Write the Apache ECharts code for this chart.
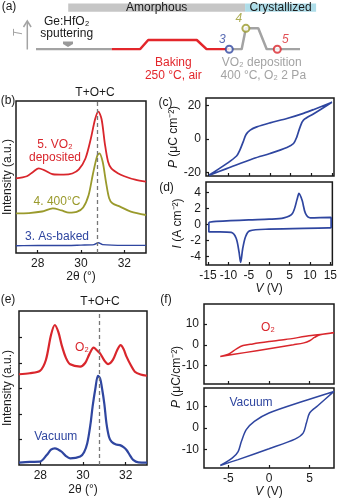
<!DOCTYPE html>
<html>
<head>
<meta charset="utf-8">
<script src="https://cdn.jsdelivr.net/npm/echarts@6/dist/echarts.min.js"></script>
<style>
  html, body { margin: 0; padding: 0; background: #fff; }
  #chart { width: 340px; height: 500px; }
</style>
</head>
<body>
<div id="chart"></div>
<script>
// (a) process schematic: time (a.u.) vs temperature level (a.u.)
var profileStart = [[0, 0], [28.7, 0]];
var profileBake = [[28.7, 0], [39.4, 0], [42.5, 4], [60.9, 4], [64.7, 0], [73.2, 0]];
var profileDepo = [[73.2, 0], [77.9, 0], [79.5, 9], [84.2, 9], [87.4, 0], [100, 0]];
var stageNames = ['3', '4', '5'];
var stageAt = [[73.2, 0], [79.5, 9], [91.4, 0]];
var phaseNames = ['Amorphous', 'Crystallized'];
var phaseSpan = [[12.2, 79.2], [79.2, 106.1]];

// (b) XRD, intensity a.u.
var xrdDeposited = [[27, 49.1], [27.5, 50.5], [27.8, 53.5], [28.05, 55.7], [28.3, 54.5], [28.7, 51.8], [29.2, 51.5], [29.6, 52.3], [29.9, 55], [30.2, 62], [30.45, 75], [30.65, 88], [30.8, 93], [30.95, 88], [31.1, 72], [31.25, 60], [31.4, 55.7], [31.7, 52.5], [32, 50.5], [32.5, 48.2], [33, 46.9]];
var xrd400 = [[27, 26.1], [27.6, 26.3], [28.2, 27.3], [28.7, 29.4], [29.1, 28], [29.45, 26.5], [29.8, 27], [30.1, 30], [30.35, 38], [30.55, 52], [30.75, 64], [30.85, 65.6], [31, 60], [31.15, 47], [31.3, 36], [31.45, 32.7], [31.8, 30.5], [32.3, 27.2], [33, 25]];
var xrdBaked = [[27, 4.8], [28, 5], [29, 4.9], [30, 5.2], [30.6, 5.5], [30.8, 6.7], [31, 5.5], [32, 5], [33, 5]];

// (c) P-V loop, (d) I-V loop
var pvLoop = [[-14.8, -21.8], [-10.5, -17.8], [-4, -11.7], [0, -8.7], [4.1, -5.1], [5.7, -2.7], [6.5, 1.3], [7.3, 7.3], [8.1, 11.3], [10.5, 15], [15, 22], [10.5, 17.6], [8.1, 15.4], [4.1, 12.3], [0, 9.7], [-3.2, 7.3], [-4.8, 5.3], [-5.8, 2.7], [-6.5, -1.7], [-7.3, -6.7], [-8.1, -10.2], [-10.5, -14.8], [-14.8, -21.8]];
var ivLoop = [[-14.8, 0.3], [-13, 0.4], [-5, 0.6], [0, 0.68], [3.6, 0.85], [5.7, 1.4], [6.9, 3.25], [7.3, 3.9], [8.1, 3.0], [8.9, 1.4], [10.1, 0.85], [15, 0.9], [15.2, 0.85], [15.2, -0.35], [14.5, -0.4], [0, -0.56], [-4.8, -0.77], [-5.8, -1.5], [-6.5, -3.0], [-7.0, -4.7], [-7.4, -3.4], [-8.1, -1.7], [-9.3, -0.97], [-12.1, -0.9], [-14.8, -0.9], [-14.8, 0.3]];

// (e) XRD in O2 and vacuum
var xrdO2 = [[27, 3.56], [27.5, 3.6], [27.98, 3.69], [28.26, 4.12], [28.5, 5.1], [28.68, 5.49], [28.85, 5.2], [29.0, 4.7], [29.2, 4.2], [29.4, 3.95], [29.87, 3.86], [30.1, 4.0], [30.3, 4.35], [30.5, 4.6], [30.65, 4.5], [30.8, 4.38], [31.0, 4.1], [31.18, 3.96], [31.4, 4.12], [31.6, 4.5], [31.76, 4.7], [31.9, 4.55], [32.04, 4.25], [32.25, 3.9], [32.43, 3.66], [32.7, 3.55], [33, 3.5]];
var xrdVac = [[27, 0.09], [27.5, 0.12], [27.98, 0.13], [28.3, 0.39], [28.5, 0.6], [28.68, 0.65], [28.85, 0.6], [29.0, 0.52], [29.2, 0.35], [29.4, 0.26], [29.87, 0.33], [30.05, 0.5], [30.2, 0.85], [30.35, 1.6], [30.45, 2.29], [30.58, 3.0], [30.7, 3.5], [30.8, 3.4], [30.88, 3.07], [31.0, 2.4], [31.1, 1.63], [31.22, 1.1], [31.34, 0.91], [31.55, 0.8], [31.73, 0.78], [31.9, 0.7], [32.04, 0.59], [32.2, 0.38], [32.35, 0.2], [32.6, 0.1], [33, 0.09]];
var refPeak = 30.75;

// (f) P-V loops in O2 and vacuum
var pvO2 = [[-6, -5.6], [-3, -3.7], [0, -1.8], [3, 0.1], [4.3, 1.0], [5.0, 2.0], [5.6, 3.6], [6.3, 4.9], [8, 5.9], [5.2, 4.5], [2, 2.6], [0, 1.6], [-2, 0.5], [-3.2, -0.3], [-4, -1.9], [-5, -4.5], [-6, -5.6]];
var pvVac = [[-6, -17.5], [-3.8, -14.8], [0, -9.7], [3.2, -5.2], [4.2, -2.4], [4.6, 2.3], [5.0, 7.0], [6.0, 10.4], [8, 17.1], [4.2, 12.5], [0, 7], [-1.8, 3.1], [-2.8, -0.8], [-3.4, -6.3], [-3.8, -11], [-4.5, -14], [-6, -17.5]];

var xrdTicks = [28, 30, 32];
var vTicksCD = [-15, -10, -5, 0, 5, 10, 15];
var pTicksC = [-20, 0, 20];
var iTicksD = [-4, -2, 0, 2, 4];
var intTicksE = [1, 2, 3, 4, 5];
var vTicksF = [-5, 0, 5];
var pTicksF = [-10, 0, 10];

(function() {
  var font = "'Liberation Sans', Arial, sans-serif";
  var ink = '#1a1a1a';
  var red = '#d9262c', olive = '#9a9a2c', blue = '#2f46a0', gray = '#a3a3a3', aRed = '#e3262b';
  var stageColors = [blue, olive, red];
  var stageOffsets = [[-7, -10], [-7, -10], [8, -10]];
  var phaseColors = ['#c6c6c6', '#aedde9'];

  var chart = echarts.init(document.getElementById('chart'), null, { renderer: 'canvas' });

  function nameStyle() {
    return { color: ink, fontSize: 12, fontFamily: font,
      rich: { i: { fontStyle: 'italic', fontSize: 12, fontFamily: font, color: ink } } };
  }
  function axis(grid, min, max, ticks, labels, name, gap) {
    return {
      type: 'value', gridIndex: grid, min: min, max: max,
      axisLine: { show: false, onZero: false },
      axisTick: { show: !!ticks, inside: true, length: 3, lineStyle: { color: ink, width: 1.2 }, customValues: ticks || undefined },
      axisLabel: { show: !!labels, customValues: labels || undefined, color: ink, fontSize: 12, fontFamily: font, margin: 5 },
      splitLine: { show: false },
      name: name || '', nameLocation: 'middle', nameGap: gap || 0, nameTextStyle: nameStyle()
    };
  }
  function hidden(grid, min, max) {
    return { type: 'value', gridIndex: grid, min: min, max: max, show: false, splitLine: { show: false } };
  }
  function box(l, t, w, h) {
    return { left: l, top: t, width: w, height: h, show: true, borderColor: ink, borderWidth: 1.5, backgroundColor: 'transparent' };
  }
  function curve(xi, data, color, width) {
    return { type: 'line', xAxisIndex: xi, yAxisIndex: xi, data: data, smooth: 0.3, showSymbol: false,
      lineStyle: { color: color, width: width }, silent: true };
  }
  function dash() {
    return { symbol: 'none', silent: true, label: { show: false },
      lineStyle: { type: [4, 3], color: '#777', width: 1.3 }, data: [{ xAxis: refPeak }] };
  }
  function txt(x, y, text, color, extra) {
    var s = { text: text, fill: color || ink, fontSize: 12, fontFamily: font, align: 'center', verticalAlign: 'middle' };
    if (extra) for (var k in extra) s[k] = extra[k];
    return { type: 'text', x: x, y: y, style: s, silent: true };
  }

  var series = [
    // (a)
    { type: 'line', xAxisIndex: 0, yAxisIndex: 0, data: profileStart, showSymbol: false, silent: true,
      lineStyle: { color: gray, width: 2.5 },
      markArea: { silent: true, data: phaseNames.map(function(n, i) {
        return [{ name: n, xAxis: phaseSpan[i][0], yAxis: 16.1, itemStyle: { color: phaseColors[i] } },
                { xAxis: phaseSpan[i][1], yAxis: 19.7 }];
      }), label: { show: true, position: 'inside', color: ink, fontSize: 12, fontFamily: font } } },
    { type: 'line', xAxisIndex: 0, yAxisIndex: 0, data: profileBake, showSymbol: false, silent: true,
      lineStyle: { color: aRed, width: 2.5 } },
    { type: 'line', xAxisIndex: 0, yAxisIndex: 0, data: profileDepo, showSymbol: false, silent: true,
      lineStyle: { color: gray, width: 2.5 } },
    { type: 'scatter', xAxisIndex: 0, yAxisIndex: 0, symbolSize: 7, silent: true, z: 5,
      data: stageAt.map(function(p, i) {
        return { value: p, name: stageNames[i],
          itemStyle: { color: '#fff', borderColor: stageColors[i], borderWidth: 2 },
          label: { show: true, formatter: stageNames[i], color: stageColors[i], offset: stageOffsets[i],
            fontStyle: 'italic', fontSize: 12, fontFamily: font } };
      }) },
    // (b)
    Object.assign(curve(1, xrdDeposited, red, 1.8), { markLine: dash() }),
    curve(1, xrd400, olive, 1.8),
    curve(1, xrdBaked, blue, 1.4),
    // (c), (d)
    curve(2, pvLoop, blue, 1.7),
    curve(3, ivLoop, blue, 1.7),
    // (e)
    Object.assign(curve(4, xrdO2, red, 2.2), { markLine: dash() }),
    curve(4, xrdVac, blue, 2.2),
    // (f)
    curve(5, pvO2, red, 1.5),
    curve(6, pvVac, blue, 1.5)
  ];

  chart.setOption({
    animation: false,
    textStyle: { fontFamily: font },
    grid: [
      { left: 36, top: 2.7, width: 290.4, height: 46.6, show: false },
      box(16, 101, 130, 152),
      box(206, 98, 128, 78),
      box(206, 182, 128, 83),
      box(19, 311, 128, 154),
      box(204, 304, 130, 80),
      box(204, 388, 130, 80)
    ],
    xAxis: [
      hidden(0, 0, 110),
      axis(1, 27, 33, xrdTicks, xrdTicks, '2θ (°)', 17),
      axis(2, -15.5, 15.5, vTicksCD, null),
      axis(3, -15.5, 15.5, vTicksCD, vTicksCD, '{i|V} (V)', 17),
      axis(4, 27, 33, xrdTicks, xrdTicks, '2θ (°)', 19),
      axis(5, -8, 8, vTicksF, null),
      axis(6, -8, 8, vTicksF, vTicksF, '{i|V} (V)', 17)
    ],
    yAxis: [
      hidden(0, 0, 20),
      axis(1, 0, 100, null, null, 'Intensity (a.u.)', 2),
      axis(2, -22.2, 24.6, pTicksC, pTicksC, '{i|P} (μC cm⁻²)', 22),
      axis(3, -5.03, 5.32, iTicksD, iTicksD, '{i|I} (A cm⁻²)', 22),
      axis(4, 0, 6.04, intTicksE, null, 'Intensity (a.u.)', 5),
      axis(5, -18.8, 19.7, pTicksF, pTicksF),
      axis(6, -18.7, 18.7, pTicksF, pTicksF)
    ],
    series: series,
    graphic: [
      txt(9, 7, '(a)'),
      txt(66.7, 21.7, 'Ge:HfO₂'),
      txt(66.7, 33.3, 'sputtering'),
      { type: 'polygon', shape: { points: [[63, 41.5], [73, 41.5], [73, 44], [68, 47], [63, 44]] }, style: { fill: '#999' }, silent: true },
      { type: 'line', shape: { x1: 27.3, y1: 49.5, x2: 27.3, y2: 22 }, style: { stroke: gray, lineWidth: 1.5 }, silent: true },
      { type: 'polyline', shape: { points: [[23.5, 27], [27.3, 21], [31.1, 27]] }, style: { stroke: gray, lineWidth: 1.5, fill: null }, silent: true },
      { type: 'text', x: 19, y: 33, rotation: Math.PI / 2, silent: true,
        style: { text: 'T', fill: gray, fontSize: 12, fontFamily: font, fontStyle: 'italic', align: 'center', verticalAlign: 'middle' } },
      txt(173.3, 62.7, 'Baking', aRed),
      txt(173.3, 76, '250 °C, air', aRed),
      txt(261.7, 62.7, 'VO₂ deposition', gray),
      txt(263.3, 76, '400 °C, O₂ 2 Pa', gray),
      txt(8, 101, '(b)'),
      txt(95, 93, 'T+O+C'),
      txt(55, 145, '5. VO₂', red),
      txt(55, 158, 'deposited', red),
      txt(57, 201.7, '4. 400°C', olive),
      txt(57, 236.7, '3. As-baked', blue),
      txt(165.5, 103, '(c)'),
      txt(166.5, 188, '(d)'),
      txt(8, 300, '(e)'),
      txt(100, 301.7, 'T+O+C'),
      txt(82, 348, 'O₂', red),
      txt(55.8, 436.7, 'Vacuum', blue),
      txt(166, 300, '(f)'),
      txt(268, 327.5, 'O₂', red),
      txt(251, 403, 'Vacuum', blue),
      { type: 'text', x: 177, y: 377, rotation: Math.PI / 2, silent: true,
        style: { text: '{i|P} (μC/cm⁻²)', fill: ink, fontSize: 12, fontFamily: font, align: 'center', verticalAlign: 'middle',
          rich: { i: { fontStyle: 'italic', fontSize: 12, fontFamily: font, fill: ink } } } }
    ]
  });
  window.addEventListener('resize', function() { chart.resize(); });
})();
</script>
</body>
</html>
